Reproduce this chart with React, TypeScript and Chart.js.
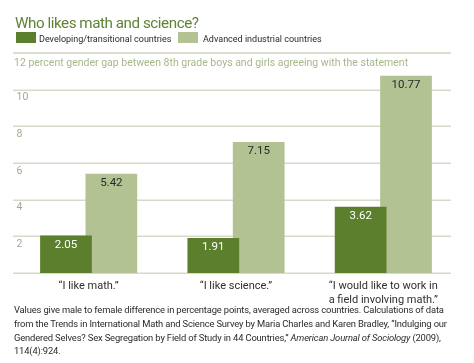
import React, { useEffect, useRef } from "react";
import { Chart, registerables } from "chart.js";

Chart.register(...registerables);

const categories: (string | string[])[] = [
  "\u201CI like math.\u201D",
  "\u201CI like science.\u201D",
  ["\u201CI would like to work in", "a field involving math.\u201D"],
];
const developing = [2.05, 1.91, 3.62];
const advanced = [5.42, 7.15, 10.77];
const yTicks = [0, 2, 4, 6, 8, 10];

const DARK = "#5b7f2c";
const LIGHT = "#b2c292";
const FONT = "Roboto, 'Noto Sans', sans-serif";

const gridPlugin = {
  id: "customGrid",
  beforeDatasetsDraw(chart: any) {
    const { ctx } = chart;
    const y = chart.scales.y;
    ctx.save();
    ctx.strokeStyle = "#d8dac9";
    ctx.lineWidth = 1.5;
    yTicks.forEach((v) => {
      const py = Math.round(y.getPixelForValue(v)) + 0.25;
      ctx.beginPath();
      ctx.moveTo(13, py);
      ctx.lineTo(451, py);
      ctx.stroke();
    });
    ctx.restore();
  },
};

const valuePlugin = {
  id: "valueLabels",
  afterDatasetsDraw(chart: any) {
    const { ctx } = chart;
    ctx.save();
    ctx.font = `11.5px ${FONT}`;
    ctx.textAlign = "center";
    ctx.textBaseline = "middle";
    chart.data.datasets.forEach((ds: any, i: number) => {
      const meta = chart.getDatasetMeta(i);
      ctx.fillStyle = i === 0 ? "#ffffff" : "#2a2a2a";
      meta.data.forEach((el: any, j: number) => {
        ctx.fillText(ds.data[j].toFixed(2), el.x, el.y + 9.5);
      });
    });
    ctx.restore();
  },
};

export default function App() {
  const ref = useRef<HTMLCanvasElement>(null);
  useEffect(() => {
    const chart = new Chart(ref.current!, {
      type: "bar",
      data: {
        labels: categories as any,
        datasets: [
          {
            label: "Developing/transitional countries",
            data: developing,
            backgroundColor: DARK,
            categoryPercentage: 0.616,
            barPercentage: 1.14,
          },
          {
            label: "Advanced industrial countries",
            data: advanced,
            backgroundColor: LIGHT,
            categoryPercentage: 0.616,
            barPercentage: 1.14,
          },
        ],
      },
      options: {
        responsive: false,
        animation: false,
        devicePixelRatio: 1,
        layout: { padding: { left: 12, right: 17, top: 71.5, bottom: 50 } },
        plugins: { legend: { display: false }, tooltip: { enabled: false } },
        scales: {
          x: {
            offset: true,
            grid: { display: false, drawTicks: false },
            border: { display: false },
            ticks: {
              color: "#2e2e2e",
              font: { family: FONT, size: 11, lineHeight: 1.27 },
              padding: 6,
              maxRotation: 0,
              autoSkip: false,
            },
          },
          y: {
            min: 0,
            max: 11,
            grid: { display: false, drawTicks: false },
            border: { display: false },
            ticks: {
              stepSize: 2,
              mirror: true,
              padding: 1.5,
              labelOffset: 8,
              color: "#a3a894",
              font: { family: FONT, size: 10.5 },
              callback: (v: any) => (v === 0 || v % 2 !== 0 ? "" : String(v)),
            },
          },
        },
      },
      plugins: [gridPlugin, valuePlugin],
    });
    return () => chart.destroy();
  }, []);

  const abs = (s: React.CSSProperties): React.CSSProperties => ({
    position: "absolute",
    whiteSpace: "nowrap",
    fontFamily: FONT,
    ...s,
  });

  return (
    <div style={{ position: "absolute", left: 0, top: 0, width: 474, height: 363, background: "#fff", overflow: "hidden" }}>
      <canvas ref={ref} width={474} height={363} style={{ position: "absolute", left: 0, top: 0 }} />
      <div style={abs({ left: 15, top: 10.5, fontSize: 15.2, letterSpacing: -0.45, color: "#5e8236", lineHeight: "24px" })}>
        Who likes math and science?
      </div>
      <div style={abs({ left: 16, top: 32, width: 20, height: 11, background: DARK })} />
      <div style={abs({ left: 39, top: 31.5, fontSize: 9, color: "#2a2a2a", lineHeight: "14px" })}>
        Developing/transitional countries
      </div>
      <div style={abs({ left: 178, top: 32, width: 20, height: 11, background: LIGHT })} />
      <div style={abs({ left: 203, top: 31.5, fontSize: 9, color: "#2a2a2a", lineHeight: "14px" })}>
        Advanced industrial countries
      </div>
      <div style={abs({ left: 13, top: 52, width: 438, height: 2, background: "#dcdfd0" })} />
      <div style={abs({ left: 14, top: 54.5, fontSize: 10.5, color: "#a7b78c", lineHeight: "16px" })}>
        12 percent gender gap between 8th grade boys and girls agreeing with the statement
      </div>
      <div style={abs({ left: 14, top: 303, fontSize: 9.4, letterSpacing: -0.15, color: "#2a2a2a", lineHeight: "13.8px" })}>
        Values give male to female difference in percentage points, averaged across countries. Calculations of data
        <br />
        from the Trends in International Math and Science Survey by Maria Charles and Karen Bradley, {"\u201C"}Indulging our
        <br />
        Gendered Selves? Sex Segregation by Field of Study in 44 Countries,{"\u201D"} <i>American Journal of Sociology</i> (2009),
        <br />
        114(4):924.
      </div>
    </div>
  );
}
